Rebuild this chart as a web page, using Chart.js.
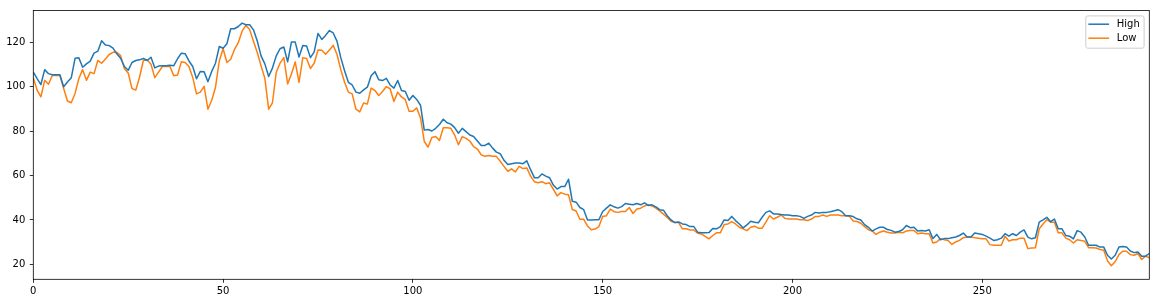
<!DOCTYPE html>
<html>
<head>
<meta charset="utf-8">
<script src="https://cdn.jsdelivr.net/npm/chart.js@4.4.0/dist/chart.umd.min.js"></script>
<style>
  html, body { margin: 0; padding: 0; background: #fff; }
  #wrap { width: 1156px; height: 303px; position: relative; }
</style>
</head>
<body>
<div id="wrap"><canvas id="myChart" width="1156" height="303"></canvas></div>
<script>
// daily High / Low readings, index 0..294
const high = [
  106.5, 103.6, 100.9, 107.6, 105.8, 105.3, 105.3, 105.3, 99.9, 102,
  103.9, 112.7, 112.9, 108.7, 110.2, 111.4, 115, 115.9, 120.6, 118.7,
  118.4, 117.3, 114.7, 112.7, 109, 107.3, 110.8, 111.7, 112, 112.6,
  111.7, 113.2, 108.4, 109.2, 109.4, 109.4, 109.6, 109.4, 112.5, 115,
  114.8, 111.5, 109, 103.5, 106.8, 106.6, 102.2, 106.8, 110.5, 118,
  117.2, 119.2, 126, 126, 127, 128.5, 127.8, 127.8, 125.5, 120.5,
  113.8, 110.2, 104.5, 108.3, 113.8, 117, 117.8, 111.1, 120, 120,
  113.3, 118.5, 118.2, 113, 115.6, 123.9, 121.2, 123, 125.2, 124.1,
  120.4, 113, 107.1, 101.9, 100.7, 97.5, 97, 98.5, 99.7, 104.9,
  106.7, 103.1, 102.7, 103.7, 100.7, 99.3, 102.7, 98.2, 97.8, 93.8,
  96, 94.2, 91.6, 80.4, 80.7, 80, 81.2, 82.9, 85.3, 83.7,
  83.1, 81.5, 79, 81.2, 79.7, 78.2, 77.5, 75.5, 73.5, 73.5,
  74.5, 72.3, 70.5, 69.8, 66.8, 64.9, 65.3, 65.6, 65.6, 65.3,
  66.6, 62.6, 59, 59, 60.7, 59.7, 59, 55.7, 53.9, 55,
  55, 58.3, 48.4, 48, 45.6, 44.6, 40, 40, 40.1, 40.1,
  43.8, 45.3, 46.8, 45.9, 45.3, 46, 47.4, 47.1, 46.8, 47.4,
  46.8, 47.7, 46.5, 46.8, 45.9, 44.6, 44.4, 41.9, 40, 38.8,
  39.1, 38.2, 37.9, 37, 37, 34.5, 34.2, 34.2, 34.3, 36.1,
  36, 37, 40, 39.7, 41.6, 39.7, 38.2, 36.4, 37.8, 39.4,
  39, 38.7, 41.2, 43.4, 44.1, 42.7, 42.7, 42.4, 42.2, 42.2,
  41.9, 41.9, 41.6, 40.7, 41.6, 42.2, 43.4, 43.1, 43.4, 43.4,
  43.7, 44.1, 44.6, 43.7, 41.9, 41.9, 41.5, 40.5, 40, 37.9,
  36.7, 35, 36, 36.7, 36.7, 35.7, 35.3, 34.5, 34.8, 35.6,
  37.5, 36.5, 36.7, 35, 35.3, 35, 35.6, 31.6, 33.5, 31.1,
  31.6, 31.6, 32, 32.3, 33, 34.1, 32.3, 32.3, 34.1, 33.8,
  33.5, 32.7, 31.8, 30.8, 31.1, 31.8, 33.8, 32.7, 33.8, 33,
  34.5, 35.5, 32.3, 31.5, 32, 39, 40, 41.2, 39.2, 40.4,
  36, 36, 33, 32.7, 31.5, 35.2, 34.5, 32.3, 28.6, 28.6,
  28.6, 27.8, 27.8, 24.1, 22.4, 24.1, 27.8, 28.1, 27.8, 26,
  25.3, 25.6, 23.7, 23.7, 24.9
];
const low = [
  104, 98.4, 95.4, 102.8, 101, 105, 105, 105, 99.1, 93.5,
  92.7, 96.9, 103.6, 107.6, 102.8, 106.5, 105.8, 111.7, 110.5, 112.4,
  114.4, 115.4, 115.4, 113.9, 108, 106.1, 99.1, 98.4, 104.3, 111.7,
  112, 110, 104, 106.5, 109, 109, 109, 104.9, 105.2, 111.1,
  110.8, 109, 104.1, 96.7, 97.5, 100.1, 89.8, 93.8, 99.7, 111.6,
  117, 110.8, 112.3, 116.7, 119.7, 124.9, 127.5, 125.6, 120.4, 115.3,
  109.3, 103.7, 89.8, 92.7, 106.4, 110.5, 113, 101.2, 105.6, 111.1,
  101.9, 113, 112.6, 108.1, 110.5, 116.4, 116.3, 114.5, 116.4, 118.5,
  114.5, 107.6, 101.9, 97.5, 96.7, 89.8, 88.6, 92.6, 92.1, 99.3,
  98.2, 96, 97.8, 100, 99, 93.3, 97.5, 95.3, 94.1, 88.9,
  88.9, 90.4, 86, 75.3, 72.8, 77.1, 77.5, 75.7, 81.5, 81.5,
  81.2, 78.2, 73.8, 77.5, 76.7, 75.5, 73, 71.9, 69.3, 68.6,
  69, 68.6, 68.6, 66.4, 64.1, 61.9, 63, 61.6, 64.1, 63.1,
  63.4, 59.7, 57.2, 56.7, 57.2, 56.3, 56.7, 53.8, 50.8, 52.3,
  51.6, 51.3, 44.7, 44, 40.3, 40.3, 37.3, 35.6, 35.9, 37,
  41.5, 41.9, 44.9, 43.7, 43.4, 43.8, 43.8, 45.6, 42.9, 44.9,
  45.3, 46.3, 46.8, 46.3, 45.3, 44.1, 42.6, 41.1, 39.4, 38.8,
  38.8, 36, 36, 35.5, 35.5, 34, 33.7, 32.6, 31.5, 33,
  34.2, 34.2, 37.9, 38.2, 39.2, 38.2, 36.7, 36, 35.2, 36.7,
  37.2, 36.3, 36.3, 39, 41.9, 40.4, 41.2, 42.2, 40.7, 40.4,
  40.4, 40.4, 40.1, 40.1, 39.7, 40.4, 41.6, 41.6, 42.2, 41.6,
  42.2, 42.2, 42.2, 41.9, 41.9, 41.6, 39.5, 39.3, 38.5, 37,
  35.6, 35, 33.5, 34.5, 35, 34.5, 34.1, 34.1, 34.5, 34.2,
  35, 35.3, 35.3, 33.8, 34.1, 33.8, 33.8, 29.6, 30.1, 31.6,
  31.1, 30.8, 29, 30.1, 30.8, 32, 32.3, 32.3, 32, 31.8,
  31.5, 31.5, 28.9, 28.6, 28.6, 28.6, 32.7, 30.5, 31.1, 31.1,
  31.8, 31.8, 27.1, 27.4, 27.5, 36, 38.2, 40.1, 39, 39,
  34.2, 34.2, 31.8, 31.1, 29.6, 31.1, 30.8, 30.4, 27.5, 27.5,
  27.4, 26.7, 26.4, 21.5, 19.4, 21.2, 24.4, 25.9, 25.9, 24.4,
  24.1, 24.9, 22.2, 23.7, 23
];
const seriesNames = ['High', 'Low'];
const seriesColors = ['#1f77b4', '#ff7f0e'];
const xTicks = [0, 50, 100, 150, 200, 250];
const yTicks = [20, 40, 60, 80, 100, 120];

const FONT = 'DejaVu Sans';
const canvas = document.getElementById('myChart');

// frame round the plot + legend box in the upper right corner
const framePlugin = {
    id: 'frame',
    afterDraw(chart) {
        const { ctx, chartArea: a } = chart;
        ctx.save();
        ctx.strokeStyle = '#000';
        ctx.lineWidth = 0.8;
        ctx.strokeRect(a.left, a.top, a.right - a.left, a.bottom - a.top);

        // legend
        const bx = a.right - 63.5, by = a.top + 5.4, bw = 58.3, bh = 32.3;
        ctx.fillStyle = 'rgba(255,255,255,0.8)';
        ctx.strokeStyle = '#cccccc';
        ctx.lineWidth = 1;
        ctx.beginPath();
        ctx.roundRect(bx, by, bw, bh, 2);
        ctx.fill();
        ctx.stroke();
        ctx.font = '10px "' + FONT + '"';
        ctx.textBaseline = 'middle';
        ctx.textAlign = 'left';
        chart.data.datasets.forEach((ds, i) => {
            const ly = by + 8.3 + i * 14;
            ctx.strokeStyle = ds.borderColor;
            ctx.lineWidth = 1.5;
            ctx.beginPath();
            ctx.moveTo(bx + 2.6, ly);
            ctx.lineTo(bx + 23.3, ly);
            ctx.stroke();
            ctx.fillStyle = '#000';
            ctx.fillText(ds.label, bx + 31, ly + 0.5);
        });
        ctx.restore();
    }
};

const toPoints = arr => arr.map((v, i) => ({ x: i, y: v }));

new Chart(canvas.getContext('2d'), {
    type: 'line',
    data: {
        datasets: [
            { label: seriesNames[0], data: toPoints(high), borderColor: seriesColors[0] },
            { label: seriesNames[1], data: toPoints(low), borderColor: seriesColors[1] }
        ].map(ds => Object.assign(ds, {
            borderWidth: 1.5,
            pointRadius: 0,
            tension: 0,
            fill: false,
            borderJoinStyle: 'round',
            borderCapStyle: 'butt'
        }))
    },
    options: {
        responsive: false,
        animation: false,
        events: [],
        layout: { padding: { top: 7.3, right: 6.7, left: 0, bottom: 0 } },
        plugins: { legend: { display: false }, tooltip: { enabled: false } },
        scales: {
            x: {
                type: 'linear',
                min: 0,
                max: high.length - 1,
                afterBuildTicks: s => { s.ticks = xTicks.map(v => ({ value: v })); },
                afterFit: s => { s.height = 23.7; },
                grid: { drawOnChartArea: false, drawTicks: true, tickLength: 3.5, tickWidth: 0.8, tickColor: '#000' },
                border: { display: false },
                ticks: { color: '#000', font: { family: FONT, size: 10 }, padding: 2.5, maxRotation: 0, autoSkip: false }
            },
            y: {
                type: 'linear',
                min: 13.3,
                max: 134.2,
                afterBuildTicks: s => { s.ticks = yTicks.map(v => ({ value: v })); },
                afterFit: s => { s.width = 33.3; },
                grid: { drawOnChartArea: false, drawTicks: true, tickLength: 3.5, tickWidth: 0.8, tickColor: '#000' },
                border: { display: false },
                ticks: { color: '#000', font: { family: FONT, size: 10 }, padding: 4.5, autoSkip: false }
            }
        }
    },
    plugins: [framePlugin]
});
</script>
</body>
</html>
